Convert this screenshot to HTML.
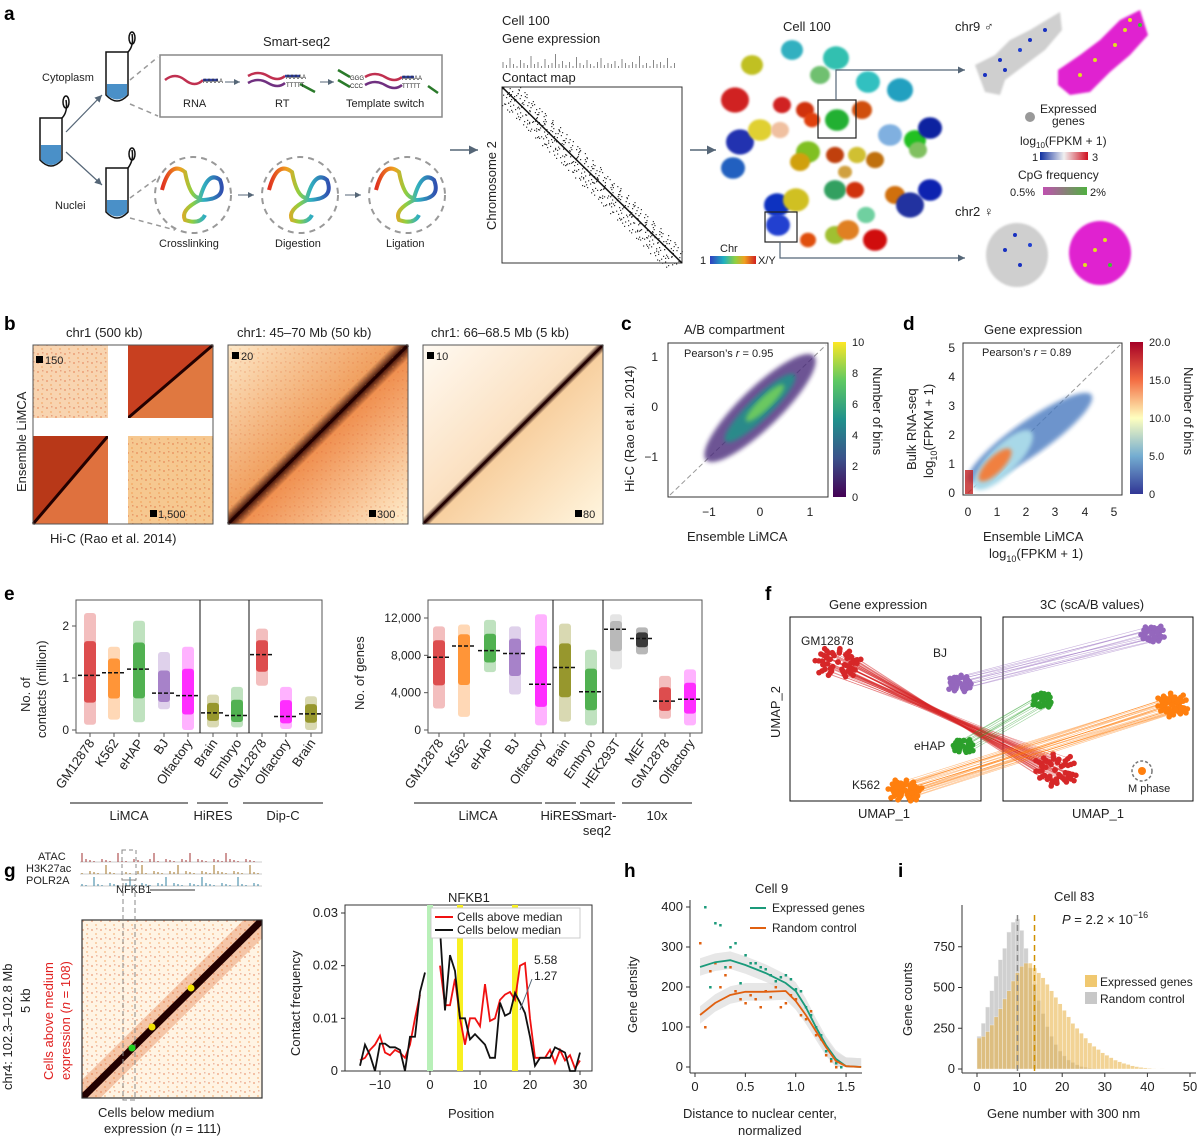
<!DOCTYPE html>
<html><head><meta charset="utf-8">
<style>
html,body{margin:0;padding:0;background:#fff;}
svg{display:block;font-family:"Liberation Sans",sans-serif;}
text{fill:#222;}
.pl{font-weight:bold;font-size:19px;fill:#000;}
.t13{font-size:13px;}
.t12{font-size:12px;}
.t11{font-size:11px;}
.t10{font-size:10px;}
</style></head>
<body>
<svg id="fig" width="1200" height="1139" viewBox="0 0 1200 1139" xmlns="http://www.w3.org/2000/svg">
<defs>
 <linearGradient id="hm2" x1="0" y1="0" x2="1" y2="1"><stop offset="0" stop-color="#fde8c8"/><stop offset="0.46" stop-color="#f0a060"/><stop offset="0.5" stop-color="#300400"/><stop offset="0.54" stop-color="#f09050"/><stop offset="1" stop-color="#fff0d0"/></linearGradient>
 <linearGradient id="hm3" x1="0" y1="0" x2="1" y2="1"><stop offset="0" stop-color="#fffaf2"/><stop offset="0.48" stop-color="#fbe0c0"/><stop offset="0.5" stop-color="#200000"/><stop offset="0.52" stop-color="#f8d0a0"/><stop offset="1" stop-color="#fff6e0"/></linearGradient>
 <pattern id="speck" width="9" height="9" patternUnits="userSpaceOnUse"><rect x="1" y="2" width="2" height="2" fill="#e06030" opacity="0.35"/><rect x="5" y="6" width="2" height="2" fill="#f09040" opacity="0.35"/><rect x="6" y="1" width="1.5" height="1.5" fill="#c03010" opacity="0.3"/></pattern>
 <linearGradient id="viridis" x1="0" y1="1" x2="0" y2="0"><stop offset="0" stop-color="#440154"/><stop offset="0.25" stop-color="#3b528b"/><stop offset="0.5" stop-color="#21918c"/><stop offset="0.75" stop-color="#5ec962"/><stop offset="1" stop-color="#fde725"/></linearGradient>
 <linearGradient id="rdylbu" x1="0" y1="1" x2="0" y2="0"><stop offset="0" stop-color="#313695"/><stop offset="0.25" stop-color="#74add1"/><stop offset="0.5" stop-color="#ffffbf"/><stop offset="0.75" stop-color="#f46d43"/><stop offset="1" stop-color="#a50026"/></linearGradient>
 <linearGradient id="chrbar" x1="0" x2="1"><stop offset="0" stop-color="#3040c0"/><stop offset="0.3" stop-color="#20b0c0"/><stop offset="0.55" stop-color="#90d040"/><stop offset="0.75" stop-color="#f0a020"/><stop offset="1" stop-color="#d02020"/></linearGradient>
 <linearGradient id="fpkm" x1="0" x2="1"><stop offset="0" stop-color="#1030a0"/><stop offset="0.5" stop-color="#f0f0f0"/><stop offset="1" stop-color="#d01020"/></linearGradient>
 <linearGradient id="cpg" x1="0" x2="1"><stop offset="0" stop-color="#c050b0"/><stop offset="1" stop-color="#50b040"/></linearGradient>
 <linearGradient id="chrline" x1="0" x2="1"><stop offset="0" stop-color="#e03020"/><stop offset="0.3" stop-color="#f0a020"/><stop offset="0.5" stop-color="#90d040"/><stop offset="0.7" stop-color="#30b0c0"/><stop offset="1" stop-color="#3050b0"/></linearGradient>
 <clipPath id="gclip"><rect x="82" y="920" width="180" height="178"/></clipPath>
 <filter id="blur1"><feGaussianBlur stdDeviation="1"/></filter>
 <filter id="blur2"><feGaussianBlur stdDeviation="2"/></filter>
 <marker id="arr" markerWidth="8" markerHeight="8" refX="6" refY="3" orient="auto"><path d="M0,0 L6,3 L0,6 z" fill="#556677"/></marker>
</defs>

<!-- ================= PANEL A ================= -->
<g>
<text class="pl" x="4" y="20">a</text>
<g stroke="#111" stroke-width="1.5" fill="none">
 <path d="M40,118 L62,118 L62,160 Q51,172 40,160 Z" fill="#fff"/><path d="M41,145 L61,145 L61,160 Q51,170 41,160Z" fill="#4a90c8" stroke="none"/>
 <path d="M62,118 Q68,112 66,100"/><ellipse cx="66" cy="102" rx="3" ry="6"/>
</g>
<g stroke="#111" stroke-width="1.5" fill="none">
 <path d="M106,52 L128,52 L128,95 Q117,107 106,95 Z" fill="#fff"/><path d="M107,84 L127,84 L127,95 Q117,104 107,95Z" fill="#4a90c8" stroke="none"/>
 <path d="M128,52 Q134,46 132,34"/><ellipse cx="132" cy="38" rx="3" ry="6"/>
</g>
<g stroke="#111" stroke-width="1.5" fill="none">
 <path d="M106,168 L128,168 L128,212 Q117,224 106,212 Z" fill="#fff"/><path d="M107,200 L127,200 L127,212 Q117,221 107,212Z" fill="#4a90c8" stroke="none"/>
 <path d="M128,168 Q134,160 132,150"/><ellipse cx="132" cy="154" rx="3" ry="6"/>
</g>
<line x1="66" y1="132" x2="102" y2="95" stroke="#556677" stroke-width="1.2" marker-end="url(#arr)"/>
<line x1="66" y1="152" x2="102" y2="185" stroke="#556677" stroke-width="1.2" marker-end="url(#arr)"/>
<text class="t11" x="42" y="81">Cytoplasm</text>
<text class="t11" x="55" y="209">Nuclei</text>
<text class="t13" x="263" y="46">Smart-seq2</text>
<rect x="160" y="55" width="282" height="62" fill="none" stroke="#888" stroke-width="1.5"/>
<line x1="130" y1="80" x2="158" y2="57" stroke="#999" stroke-dasharray="5,4" stroke-width="1.5"/>
<line x1="130" y1="104" x2="158" y2="116" stroke="#999" stroke-dasharray="5,4" stroke-width="1.5"/>
<g stroke-width="2.5" fill="none">
 <path d="M165,80 Q175,72 185,80 T203,80" stroke="#c03050"/><line x1="203" y1="80" x2="218" y2="80" stroke="#3040a0"/>
 <path d="M248,76 Q258,70 268,76 T285,76" stroke="#c03050"/><line x1="285" y1="76" x2="300" y2="76" stroke="#3040a0"/>
 <path d="M248,83 Q258,77 268,83 T285,83" stroke="#703080"/><line x1="300" y1="84" x2="315" y2="92" stroke="#2a7a2a"/>
 <path d="M365,77 Q375,71 385,77 T402,77" stroke="#c03050"/><line x1="402" y1="77" x2="414" y2="77" stroke="#3040a0"/>
 <path d="M365,85 Q375,79 385,85 T402,85" stroke="#703080"/><line x1="338" y1="70" x2="350" y2="77" stroke="#2a7a2a"/><line x1="338" y1="80" x2="350" y2="87" stroke="#2a7a2a"/><line x1="428" y1="86" x2="438" y2="93" stroke="#2a7a2a"/>
</g>
<text x="203" y="83" font-size="6">AAAAA</text><text x="286" y="79" font-size="6">AAAAA</text><text x="286" y="87" font-size="6">TTTTT</text>
<text x="402" y="80" font-size="6">AAAAA</text><text x="402" y="88" font-size="6">TTTTT</text><text x="350" y="80" font-size="6">GGG</text><text x="350" y="88" font-size="6">CCC</text>
<line x1="225" y1="82" x2="240" y2="82" stroke="#556677" marker-end="url(#arr)"/><line x1="320" y1="82" x2="334" y2="82" stroke="#556677" marker-end="url(#arr)"/>
<text class="t11" x="183" y="107">RNA</text>
<text class="t11" x="275" y="107">RT</text>
<text class="t11" x="346" y="107">Template switch</text>
<line x1="130" y1="198" x2="160" y2="176" stroke="#999" stroke-dasharray="5,4" stroke-width="1.5"/>
<line x1="130" y1="218" x2="175" y2="230" stroke="#999" stroke-dasharray="5,4" stroke-width="1.5"/>
<g>
 <circle cx="193" cy="195" r="38" fill="none" stroke="#999" stroke-width="2" stroke-dasharray="6,5"/>
 <circle cx="300" cy="195" r="38" fill="none" stroke="#999" stroke-width="2" stroke-dasharray="6,5"/>
 <circle cx="407" cy="195" r="38" fill="none" stroke="#999" stroke-width="2" stroke-dasharray="6,5"/>
 <path d="M162,190 Q170,160 185,172 Q190,198 200,198 Q208,170 220,180 Q228,200 200,200 Q180,210 185,220 Q200,225 205,215" fill="none" stroke="url(#chrline)" stroke-width="4"/>
 <path d="M269,190 Q277,160 292,172 Q297,198 307,198 Q315,170 327,180 Q335,200 307,200 Q287,210 292,220 Q307,225 312,215" fill="none" stroke="url(#chrline)" stroke-width="4"/>
 <path d="M376,190 Q384,160 399,172 Q404,198 414,198 Q422,170 434,180 Q442,200 414,200 Q394,210 399,220 Q414,225 419,215" fill="none" stroke="url(#chrline)" stroke-width="4"/>
</g>
<line x1="238" y1="195" x2="254" y2="195" stroke="#556677" marker-end="url(#arr)"/><line x1="345" y1="195" x2="361" y2="195" stroke="#556677" marker-end="url(#arr)"/>
<text class="t11" x="159" y="247">Crosslinking</text>
<text class="t11" x="275" y="247">Digestion</text>
<text class="t11" x="386" y="247">Ligation</text>
<line x1="450" y1="150" x2="478" y2="150" stroke="#556677" stroke-width="1.5" marker-end="url(#arr)"/>
<text class="t13" x="502" y="25">Cell 100</text>
<text class="t13" x="502" y="43">Gene expression</text>
<g id="spikes"></g>
<text class="t13" x="502" y="82">Contact map</text>
<rect x="502" y="87" width="180" height="176" fill="#fff" stroke="#333"/>
<g id="cmap"></g>
<text class="t13" transform="translate(496,230) rotate(-90)">Chromosome 2</text>
<line x1="690" y1="150" x2="716" y2="150" stroke="#556677" stroke-width="1.5" marker-end="url(#arr)"/>
<text class="t13" x="783" y="31">Cell 100</text>
<g id="blobs"></g>
<rect x="818" y="100" width="38" height="38" fill="none" stroke="#222" stroke-width="1.2"/>
<rect x="765" y="212" width="32" height="30" fill="none" stroke="#222" stroke-width="1.2"/>
<polyline points="836,100 836,70 965,70" fill="none" stroke="#556677" stroke-width="1.2" marker-end="url(#arr)"/>
<polyline points="780,242 780,258 965,258" fill="none" stroke="#556677" stroke-width="1.2" marker-end="url(#arr)"/>
<text class="t11" x="720" y="252">Chr</text>
<rect x="710" y="256" width="46" height="8" fill="url(#chrbar)"/>
<text class="t11" x="700" y="264">1</text><text class="t11" x="758" y="264">X/Y</text>
<text class="t13" x="955" y="31">chr9 ♂</text>
<path d="M975,65 L995,55 L1010,40 L1030,30 L1060,12 L1062,30 L1045,50 L1025,65 L1005,80 L1000,95 L985,92 Z" fill="#cfcfcf" filter="url(#blur1)"/>
<path d="M1058,70 L1080,55 L1100,40 L1120,20 L1140,10 L1148,35 L1130,55 L1110,72 L1090,92 L1070,95 L1058,85 Z" fill="#e020d0" filter="url(#blur1)"/>
<circle cx="1030" cy="117" r="5" fill="#999"/>
<text class="t12" x="1040" y="113">Expressed</text><text class="t12" x="1052" y="125">genes</text>
<text class="t12" x="1020" y="145">log<tspan font-size="8" dy="3">10</tspan><tspan dy="-3">(FPKM + 1)</tspan></text>
<text class="t11" x="1032" y="161">1</text><rect x="1040" y="152" width="48" height="8" fill="url(#fpkm)"/><text class="t11" x="1092" y="161">3</text>
<text class="t12" x="1018" y="179">CpG frequency</text>
<text class="t11" x="1010" y="196">0.5%</text><rect x="1043" y="187" width="44" height="8" fill="url(#cpg)"/><text class="t11" x="1090" y="196">2%</text>
<text class="t13" x="955" y="216">chr2 ♀</text>
<ellipse cx="1017" cy="255" rx="31" ry="32" fill="#cfcfcf" filter="url(#blur1)"/>
<ellipse cx="1100" cy="253" rx="31" ry="32" fill="#e020d0" filter="url(#blur1)"/>
<g id="dots9"></g>
</g>

<!-- ================= PANEL B ================= -->
<g>
<text class="pl" x="4" y="330">b</text>
<text class="t13" x="66" y="337">chr1 (500 kb)</text>
<text class="t13" x="237" y="337">chr1: 45–70 Mb (50 kb)</text>
<text class="t13" x="431" y="337">chr1: 66–68.5 Mb (5 kb)</text>
<g>
 <rect x="33" y="345" width="180" height="179" fill="#d86a38"/>
 <rect x="33" y="345" width="75" height="73" fill="#f8d4b0"/>
 <rect x="33" y="345" width="75" height="73" fill="url(#speck)"/>
 <rect x="128" y="345" width="85" height="73" fill="#c84020"/>
 <polygon points="128,418 213,345 213,418" fill="#e07840"/>
 <rect x="33" y="436" width="75" height="88" fill="#b83818"/>
 <polygon points="33,524 108,436 108,524" fill="#e88048" opacity="0.8"/>
 <rect x="128" y="436" width="85" height="88" fill="#f6c890"/>
 <rect x="128" y="436" width="85" height="88" fill="url(#speck)"/>
 <line x1="33" y1="524" x2="108" y2="436" stroke="#200" stroke-width="3"/>
 <line x1="128" y1="418" x2="213" y2="345" stroke="#200" stroke-width="3"/>
 <rect x="108" y="345" width="20" height="179" fill="#fff"/>
 <rect x="33" y="418" width="180" height="18" fill="#fff"/>
</g>
<g><rect x="228" y="345" width="180" height="179" fill="url(#hm2)"/><rect x="228" y="345" width="180" height="179" fill="url(#speck)" opacity="0.5"/><line x1="228" y1="524" x2="408" y2="345" stroke="#200" stroke-width="3"/></g>
<g><rect x="423" y="345" width="180" height="179" fill="url(#hm3)"/><line x1="423" y1="524" x2="603" y2="345" stroke="#200" stroke-width="2.5"/></g>
<rect x="33" y="345" width="180" height="179" fill="none" stroke="#555"/><rect x="228" y="345" width="180" height="179" fill="none" stroke="#555"/><rect x="423" y="345" width="180" height="179" fill="none" stroke="#555"/>
<rect x="36" y="356" width="7" height="7" fill="#000"/><text class="t11" x="45" y="364">150</text>
<rect x="150" y="510" width="7" height="7" fill="#000"/><text class="t11" x="158" y="518">1,500</text>
<rect x="232" y="352" width="7" height="7" fill="#000"/><text class="t11" x="241" y="360">20</text>
<rect x="369" y="510" width="7" height="7" fill="#000"/><text class="t11" x="377" y="518">300</text>
<rect x="427" y="352" width="7" height="7" fill="#000"/><text class="t11" x="436" y="360">10</text>
<rect x="575" y="510" width="7" height="7" fill="#000"/><text class="t11" x="583" y="518">80</text>
<text class="t13" transform="translate(26,492) rotate(-90)">Ensemble LiMCA</text>
<text class="t13" x="50" y="543">Hi-C (Rao et al. 2014)</text>
</g>

<!-- ================= PANEL C ================= -->
<g>
<text class="pl" x="621" y="330">c</text>
<text class="t13" x="684" y="334">A/B compartment</text>
<rect x="668" y="343" width="160" height="154" fill="#fff" stroke="#333"/>
<line x1="670" y1="495" x2="826" y2="345" stroke="#999" stroke-dasharray="5,3"/>
<ellipse cx="760" cy="408" rx="75" ry="20" fill="#4a2a7a" transform="rotate(-44 760 408)" filter="url(#blur2)" opacity="0.8"/>
<ellipse cx="760" cy="408" rx="48" ry="11" fill="#2a8a8a" transform="rotate(-44 760 408)" filter="url(#blur2)"/>
<ellipse cx="765" cy="403" rx="26" ry="6" fill="#6ac860" transform="rotate(-44 765 403)" filter="url(#blur2)"/>
<text class="t11" x="684" y="357">Pearson’s <tspan font-style="italic">r</tspan> = 0.95</text>
<g class="t12" text-anchor="end"><text x="658" y="361">1</text><text x="658" y="411">0</text><text x="658" y="461">−1</text></g>
<g class="t12" text-anchor="middle"><text x="709" y="516">−1</text><text x="760" y="516">0</text><text x="810" y="516">1</text></g>
<text class="t13" x="687" y="541">Ensemble LiMCA</text>
<text class="t13" transform="translate(634,492) rotate(-90)">Hi-C (Rao et al. 2014)</text>
<rect x="833" y="342" width="13" height="155" fill="url(#viridis)"/>
<g class="t11"><text x="852" y="346">10</text><text x="852" y="377">8</text><text x="852" y="408">6</text><text x="852" y="439">4</text><text x="852" y="470">2</text><text x="852" y="501">0</text></g>
<text class="t13" transform="translate(873,367) rotate(90)">Number of bins</text>
</g>

<!-- ================= PANEL D ================= -->
<g>
<text class="pl" x="903" y="330">d</text>
<text class="t13" x="984" y="334">Gene expression</text>
<rect x="963" y="343" width="159" height="152" fill="#fff" stroke="#333"/>
<line x1="968" y1="493" x2="1120" y2="345" stroke="#999" stroke-dasharray="5,3"/>
<ellipse cx="1030" cy="438" rx="75" ry="17" fill="#4a7ac0" transform="rotate(-35 1030 438)" filter="url(#blur2)" opacity="0.8"/>
<ellipse cx="1003" cy="460" rx="40" ry="14" fill="#a8d8e8" transform="rotate(-45 1003 460)" filter="url(#blur2)"/>
<ellipse cx="995" cy="465" rx="22" ry="8" fill="#f08040" transform="rotate(-45 995 465)" filter="url(#blur2)"/>
<rect x="965" y="470" width="8" height="24" fill="#c02020" opacity="0.8"/>
<text class="t11" x="982" y="356">Pearson’s <tspan font-style="italic">r</tspan> = 0.89</text>
<g class="t12" text-anchor="end"><text x="955" y="352">5</text><text x="955" y="381">4</text><text x="955" y="410">3</text><text x="955" y="439">2</text><text x="955" y="468">1</text><text x="955" y="497">0</text></g>
<g class="t12" text-anchor="middle"><text x="968" y="516">0</text><text x="997" y="516">1</text><text x="1026" y="516">2</text><text x="1055" y="516">3</text><text x="1085" y="516">4</text><text x="1114" y="516">5</text></g>
<text class="t13" x="983" y="541">Ensemble LiMCA</text>
<text class="t13" x="989" y="558">log<tspan font-size="9" dy="4">10</tspan><tspan dy="-4">(FPKM + 1)</tspan></text>
<text class="t13" transform="translate(916,470) rotate(-90)">Bulk RNA-seq</text>
<text class="t13" transform="translate(933,478) rotate(-90)">log<tspan font-size="9" dy="4">10</tspan><tspan dy="-4">(FPKM + 1)</tspan></text>
<rect x="1130" y="342" width="13" height="152" fill="url(#rdylbu)"/>
<g class="t11"><text x="1149" y="346">20.0</text><text x="1149" y="384">15.0</text><text x="1149" y="422">10.0</text><text x="1149" y="460">5.0</text><text x="1149" y="498">0</text></g>
<text class="t13" transform="translate(1184,367) rotate(90)">Number of bins</text>
</g>

<!-- ================= PANEL E ================= -->
<g>
<text class="pl" x="4" y="600">e</text>
<rect x="76" y="600" width="246" height="133" fill="#fff" stroke="#555"/>
<rect x="428" y="600" width="274" height="133" fill="#fff" stroke="#555"/>
<g id="eplot"></g>
<text class="t13" transform="translate(30,712) rotate(-90)">No. of</text>
<text class="t13" transform="translate(46,738) rotate(-90)">contacts (million)</text>
<text class="t13" transform="translate(364,710) rotate(-90)">No. of genes</text>
</g>

<!-- ================= PANEL F ================= -->
<g>
<text class="pl" x="765" y="600">f</text>
<text class="t13" x="829" y="609">Gene expression</text>
<text class="t13" x="1040" y="609">3C (scA/B values)</text>
<rect x="790" y="617" width="191" height="184" fill="none" stroke="#111"/>
<rect x="1003" y="617" width="190" height="184" fill="none" stroke="#111"/>
<g id="fplot"></g>
<text class="t12" x="801" y="645">GM12878</text>
<text class="t12" x="933" y="657">BJ</text>
<text class="t12" x="914" y="750">eHAP</text>
<text class="t12" x="852" y="789">K562</text>
<text class="t11" x="1128" y="792">M phase</text>
<circle cx="1142" cy="771" r="10" fill="none" stroke="#777" stroke-width="1.5" stroke-dasharray="3,2"/>
<text class="t13" x="858" y="818">UMAP_1</text>
<text class="t13" x="1072" y="818">UMAP_1</text>
<text class="t13" transform="translate(780,738) rotate(-90)">UMAP_2</text>
</g>

<!-- ================= PANEL G ================= -->
<g>
<text class="pl" x="4" y="877">g</text>
<text class="t11" x="38" y="860">ATAC</text><text class="t11" x="26" y="872">H3K27ac</text><text class="t11" x="26" y="884">POLR2A</text>
<g id="tracks"></g>
<text class="t11" x="116" y="893">NFKB1</text><line x1="150" y1="890" x2="195" y2="890" stroke="#333"/>
<g>
<rect x="82" y="920" width="180" height="178" fill="#fff4e4"/>
<g clip-path="url(#gclip)">
<rect x="82" y="920" width="180" height="178" fill="url(#speck)"/>
<line x1="82" y1="1098" x2="262" y2="920" stroke="#e06020" stroke-width="26" opacity="0.3"/>
<line x1="82" y1="1098" x2="262" y2="920" stroke="#200" stroke-width="7"/>
</g>
<rect x="82" y="920" width="180" height="178" fill="none" stroke="#333" stroke-width="1.2"/>
</g>
<rect x="123" y="880" width="12" height="220" fill="none" stroke="#888" stroke-dasharray="5,3"/>
<circle cx="152" cy="1027" r="3.5" fill="#f0e000"/><circle cx="191" cy="988" r="3.5" fill="#f0e000"/><circle cx="132" cy="1048" r="3.5" fill="#20d020"/>
<text class="t13" transform="translate(12,1090) rotate(-90)">chr4: 102.3–102.8 Mb</text>
<text class="t13" transform="translate(30,1013) rotate(-90)">5 kb</text>
<text class="t13" transform="translate(53,1080) rotate(-90)" style="fill:#e02020">Cells above medium</text>
<text class="t13" transform="translate(70,1080) rotate(-90)" style="fill:#e02020">expression (<tspan font-style="italic" style="fill:#e02020">n</tspan> = 108)</text>
<text class="t13" x="98" y="1117">Cells below medium</text>
<text class="t13" x="104" y="1133">expression (<tspan font-style="italic">n</tspan> = 111)</text>
<text class="t13" x="448" y="902">NFKB1</text>
<g id="gplot"></g>
<text class="t13" x="448" y="1118">Position</text>
<text class="t13" transform="translate(300,1056) rotate(-90)">Contact frequency</text>
</g>

<!-- ================= PANEL H ================= -->
<g>
<text class="pl" x="624" y="877">h</text>
<text class="t13" x="755" y="893">Cell 9</text>
<g id="hplot"></g>
<text class="t13" x="683" y="1118">Distance to nuclear center,</text>
<text class="t13" x="738" y="1135">normalized</text>
<text class="t13" transform="translate(637,1033) rotate(-90)">Gene density</text>
</g>

<!-- ================= PANEL I ================= -->
<g>
<text class="pl" x="898" y="877">i</text>
<text class="t13" x="1054" y="901">Cell 83</text>
<g id="iplot"></g>
<text class="t13" x="1062" y="924"><tspan font-style="italic">P</tspan> = 2.2 × 10<tspan font-size="9" dy="-6">−16</tspan></text>
<text class="t13" x="987" y="1118">Gene number with 300 nm</text>
<text class="t13" transform="translate(912,1036) rotate(-90)">Gene counts</text>
</g>
</svg>

<script>
// ---------- panel e data ----------
const eLeftCats = ["GM12878","K562","eHAP","BJ","Olfactory","Brain","Embryo","GM12878","Olfactory","Brain"];
const eLeftColors = ["#d62728","#ff7f0e","#2ca02c","#9467bd","#ff00ff","#808000","#2ca02c","#d62728","#ff00ff","#808000"];
const eLeftMedian = [1.05,1.1,1.17,0.71,0.66,0.33,0.28,1.45,0.26,0.31];
const eLeftMin = [0.1,0.2,0.15,0.4,0.0,0.05,0.05,0.85,0.02,0.0];
const eLeftMax = [2.25,1.6,2.1,1.5,1.6,0.68,0.83,1.95,0.83,0.65];
const eRightCats = ["GM12878","K562","eHAP","BJ","Olfactory","Brain","Embryo","HEK293T","MEF","GM12878","Olfactory"];
const eRightColors = ["#d62728","#ff7f0e","#2ca02c","#9467bd","#ff00ff","#808000","#2ca02c","#aaaaaa","#111111","#d62728","#ff00ff"];
const eRightMedian = [7800,9000,8500,8200,4900,6700,4100,10800,9800,3100,3300];
const eRightMin = [2300,1400,6200,3800,500,900,500,6500,8100,1200,500];
const eRightMax = [11100,11300,11800,11100,12400,11400,8600,12400,11000,5800,6500];
const eLeftTicks = [0,1,2];
const eRightTicks = [0,4000,8000,12000];

// ---------- panel g data ----------
const gPos = [-14,-13,-12,-11,-10,-9,-8,-7,-6,-5,-4,-3,-2,-1,0,1,2,3,4,5,6,7,8,9,10,11,12,13,14,15,16,17,18,19,20,21,22,23,24,25,26,27,28,29,30];
const gAbove = [.002,.0025,.004,.005,.0067,.0035,.003,.004,.0035,.0025,.005,.01,.0145,null,null,null,.02,.0125,.0125,.0175,.01,.005,.01,.01,.0085,.0165,.0095,.01,.0135,.0145,.015,.0135,.02,.0205,.01,.0025,.0025,.0025,.004,.0015,.004,.002,.003,.0005,.002];
const gBelow = [.001,.005,.003,0,.0052,.0052,.0045,.0045,.004,0,.0065,.0065,.015,.0187,null,null,.027,.0115,.022,.019,.01,.01,.006,.007,.006,.005,.0025,.0025,.013,.0105,.011,.0148,.013,.011,.0065,.001,.0025,.0025,.0025,.0045,.004,.0035,0,0,.0035];
const gXTicks = [-10,0,10,20,30];
const gYTicks = [0,0.01,0.02,0.03];

// ---------- panel h data ----------
const hX = [0.05,0.2,0.35,0.5,0.7,0.9,1.0,1.1,1.2,1.3,1.4,1.5,1.65];
const hExpressed = [250,262,267,255,235,210,190,150,100,55,20,2,0];
const hRandom = [130,160,180,188,188,190,165,130,90,50,15,2,0];
const hExpPtsX = [0.1,0.15,0.2,0.25,0.3,0.35,0.4,0.45,0.5,0.55,0.6,0.65,0.7,0.75,0.8,0.85,0.9,0.95,1.0,1.05,1.1,1.15,1.2,1.25,1.3,1.35,1.4,1.45];
const hExpPtsY = [400,200,360,355,250,300,310,210,280,260,260,250,245,230,215,225,230,220,195,190,150,130,100,80,40,20,10,0];
const hRndPtsX = [0.05,0.1,0.15,0.2,0.25,0.3,0.35,0.4,0.45,0.5,0.55,0.6,0.65,0.7,0.75,0.8,0.85,0.9,0.95,1.0,1.05,1.1,1.15,1.2,1.25,1.3,1.35,1.4];
const hRndPtsY = [310,100,240,260,200,230,250,190,170,160,180,170,150,190,175,200,150,160,180,170,130,120,140,80,70,30,15,0];
const hXTicks = [0,0.5,1.0,1.5];
const hYTicks = [0,100,200,300,400];

// ---------- panel i data ----------
const iRandom = [200,280,380,480,570,670,740,840,900,920,850,740,620,520,420,340,260,200,150,110,80,55,40,25,15,10,5,3,2,1];
const iExpressed = [190,200,230,270,320,370,430,480,540,590,630,650,650,620,590,560,520,480,440,400,360,320,280,250,220,190,160,140,120,100,85,70,55,45,35,28,20,15,10,7,5,3,2,1];
const iMedians = [9.5,13.5];
const iXTicks = [0,10,20,30,40,50];
const iYTicks = [0,250,500,750];

// ---------- panel f cluster data ----------
const fClusters = ["GM12878","BJ","eHAP","K562"];
const fColors = ["#d62728","#9467bd","#2ca02c","#ff7f0e"];
const fLeftX = [838,960,963,905];
const fLeftY = [662,683,746,790];
const fRightX = [1055,1152,1042,1172];
const fRightY = [770,634,700,705];
const fCounts = [60,12,10,25];

const NS="http://www.w3.org/2000/svg";
function mk(parent,tag,attrs){const e=document.createElementNS(NS,tag);for(const k in attrs)e.setAttribute(k,attrs[k]);parent.appendChild(e);return e;}
function txt(parent,x,y,s,attrs){const e=mk(parent,"text",Object.assign({x:x,y:y,"font-size":12},attrs||{}));e.textContent=s;return e;}

// ----- panel a decorations -----
(function(){
 const sp=document.getElementById("spikes");
 const h=[6,3,10,4,2,8,5,3,12,4,6,2,9,3,5,14,4,7,3,6,2,11,5,3,8,4,2,6,10,3,5,4,7,2,9,5,3,6,4,12,3,5,2,8,4,6,3,10,2,5];
 for(let i=0;i<h.length;i++){mk(sp,"line",{x1:503+i*3.5,x2:503+i*3.5,y1:68,y2:68-h[i],stroke:"#888","stroke-width":1});}
 const cm=document.getElementById("cmap");
 for(let i=0;i<260;i++){const t=(i*37%176);const d=((i*53)%60)-30;const x=502+t+(d>0?d:0)*0.6, y=87+t-(d<0?d:0)*0.6;
  if(x<682&&y<263){mk(cm,"rect",{x:x,y:y,width:1.2,height:1.2,fill:"#333"});mk(cm,"rect",{x:502+(y-87),y:87+(x-502),width:1.2,height:1.2,fill:"#333"});}}
 mk(cm,"line",{x1:502,y1:87,x2:682,y2:263,stroke:"#111","stroke-width":1.5});
 const bl=document.getElementById("blobs");
 const B=[[735,100,"#d02020",14],[782,105,"#d02020",9],[752,65,"#c0c020",11],[792,50,"#30b0c0",11],[836,58,"#30c0b0",13],[820,75,"#70c070",10],[740,142,"#2030b0",14],[760,130,"#e0d030",12],[780,130,"#f0c0a0",9],[733,168,"#2060c0",12],[805,110,"#d03010",9],[812,120,"#e04010",8],[837,120,"#20b030",12],[862,110,"#d05010",10],[868,82,"#30c0c0",12],[900,90,"#20a0c0",13],[808,152,"#80c020",12],[800,162,"#d0a010",10],[835,155,"#c04010",9],[857,155,"#d0c030",9],[875,160,"#c07010",9],[890,135,"#80b0e0",12],[915,140,"#20c020",11],[930,128,"#1020a0",12],[918,150,"#80c060",9],[845,172,"#d0a040",7],[777,205,"#1030c0",13],[796,200,"#d0c020",13],[778,225,"#2040d0",12],[835,190,"#30a060",11],[855,190,"#d03010",9],[895,195,"#d07010",10],[910,205,"#2030a0",14],[930,190,"#1020b0",12],[866,215,"#70d0a0",9],[835,235,"#a0c030",10],[848,230,"#e08020",11],[875,240,"#d01010",12],[808,240,"#e05010",8]];
 B.forEach(b=>{mk(bl,"ellipse",{cx:b[0],cy:b[1],rx:b[3],ry:b[3]*0.9,fill:b[2],filter:"url(#blur1)"});});
 const dd=document.getElementById("dots9");
 const P=[[1045,30,"#1830c0"],[1030,40,"#1830c0"],[1020,50,"#2040d0"],[1000,60,"#1830c0"],[985,75,"#1830c0"],[1005,70,"#1830c0"],[1125,30,"#e0e020"],[1115,45,"#e0e020"],[1140,25,"#40c030"],[1095,60,"#e0e020"],[1080,75,"#e0e020"],[1130,20,"#e0e020"],[1005,250,"#1830c0"],[1020,265,"#1830c0"],[1030,245,"#2040d0"],[1015,235,"#1830c0"],[1095,250,"#e0e020"],[1110,265,"#40c030"],[1085,265,"#e0e020"],[1105,240,"#e0e020"]];
 P.forEach(p=>mk(dd,"circle",{cx:p[0],cy:p[1],r:2,fill:p[2]}));
 const tr=document.getElementById("tracks");
 const cols=["#a03030","#a07020","#3080a0"];
 for(let k=0;k<3;k++){mk(tr,"line",{x1:80,x2:262,y1:862+k*12,y2:862+k*12,stroke:"#ccc"});
  for(let i=0;i<45;i++){const h=((i*7+k*3)%9===0)?9:((i*11+k)%4);mk(tr,"line",{x1:82+i*4,x2:82+i*4,y1:862+k*12,y2:862+k*12-h,stroke:cols[k]});}}
 mk(tr,"rect",{x:122,y:850,width:14,height:30,fill:"none",stroke:"#888","stroke-dasharray":"4,3"});
})();

// ----- panel e -----
(function(){
 const g=document.getElementById("eplot");
 function strip(x0,xs,cats,cols,med,mn,mx,ticks,y0,yTop,vmax,fmt){
  const ys=v=>y0-(v/vmax)*(y0-yTop);
  ticks.forEach(t=>{mk(g,"line",{x1:x0-4,x2:x0,y1:ys(t),y2:ys(t),stroke:"#555"});txt(g,x0-7,ys(t)+4,fmt(t),{"text-anchor":"end","font-size":12});});
  cats.forEach((c,i)=>{
   const x=xs[i];
   const r=mk(g,"rect",{x:x-6,y:ys(mx[i]),width:12,height:ys(mn[i])-ys(mx[i]),fill:cols[i],opacity:0.3,rx:3});
   
   
   const q1=med[i]-(med[i]-mn[i])*0.55,q3=med[i]+(mx[i]-med[i])*0.55;
   const c2=mk(g,"rect",{x:x-6,y:ys(q3),width:12,height:ys(q1)-ys(q3),fill:cols[i],opacity:0.75,rx:3});
   
   
   const m=mk(g,"line",{x1:x-12,x2:x+12,y1:ys(med[i]),y2:ys(med[i]),stroke:"#111","stroke-width":1.5,"stroke-dasharray":"4,2"});
   
   
   mk(g,"line",{x1:x,x2:x,y1:733,y2:737,stroke:"#555"});
   const t=txt(g,0,0,c,{"font-size":13,"text-anchor":"end",transform:`translate(${x+5},${743}) rotate(-55)`});
   
   
  });
 }
 const xl=[90,114,139,164,188,213,237,262,286,311];
 strip(76,xl,eLeftCats,eLeftColors,eLeftMedian,eLeftMin,eLeftMax,eLeftTicks,730,626,2,t=>String(t));
 mk(g,"line",{x1:200,x2:200,y1:600,y2:733,stroke:"#111"});mk(g,"line",{x1:249,x2:249,y1:600,y2:733,stroke:"#111"});
 const xr=[439,464,490,515,541,565,591,616,642,665,690];
 strip(428,xr,eRightCats,eRightColors,eRightMedian,eRightMin,eRightMax,eRightTicks,730,618,12000,t=>t.toLocaleString("en-US"));
 mk(g,"line",{x1:553,x2:553,y1:600,y2:733,stroke:"#111"});mk(g,"line",{x1:603,x2:603,y1:600,y2:733,stroke:"#111"});
 const grp=[[70,188,"LiMCA",129],[197,228,"HiRES",213],[243,323,"Dip-C",283],[414,542,"LiMCA",478],[545,576,"HiRES",560],[580,615,"Smart-",597],[622,692,"10x",657]];
 grp.forEach(a=>{mk(g,"line",{x1:a[0],x2:a[1],y1:803,y2:803,stroke:"#111"});txt(g,a[3],820,a[2],{"text-anchor":"middle","font-size":13});});
 txt(g,597,835,"seq2",{"text-anchor":"middle","font-size":13});
})();

// ----- panel f -----
(function(){
 const g=document.getElementById("fplot");
 const off=[[0,0],[5,3],[-4,5],[7,-4],[-6,-3],[3,8],[-8,2],[9,6],[-3,-7],[6,-8],[-9,-6],[10,1],[1,-10],[-10,8],[4,11],[-5,10],[12,-2],[-12,-1],[8,10],[-7,-10]];
 fClusters.forEach((c,i)=>{
  for(let k=0;k<fCounts[i];k++){
   const o=off[k%off.length],s=1+Math.floor(k/off.length)*0.35;
   const ln=mk(g,"line",{x1:fLeftX[i]+o[0]*s,y1:fLeftY[i]+o[1]*s*0.7,x2:fRightX[i]+o[1]*s,y2:fRightY[i]+o[0]*s*0.7,stroke:fColors[i],"stroke-width":0.6,opacity:0.5});
   
   
  }
  for(let k=0;k<Math.min(60,fCounts[i]*3);k++){
   const o=off[k%off.length],s=(i==0?1.3:0.8)+Math.floor(k/off.length)*0.3;
   mk(g,"circle",{cx:fLeftX[i]+o[0]*s,cy:fLeftY[i]+o[1]*s*0.7,r:2.8,fill:fColors[i]});
   mk(g,"circle",{cx:fRightX[i]+o[1]*s,cy:fRightY[i]+o[0]*s*0.7,r:2.8,fill:fColors[i]});
  }
 });
 mk(g,"circle",{cx:1142,cy:771,r:4,fill:"#ff7f0e"});
})();

// ----- panel g line chart -----
(function(){
 const g=document.getElementById("gplot");
 const X0=345,X1=592,Y0=1071,Y1=905;
 const xs=v=>430+v*5, ys=v=>1071-v*5267;
 mk(g,"rect",{x:X0,y:Y1,width:X1-X0,height:Y0-Y1,fill:"#fff",stroke:"#333"});
 mk(g,"rect",{x:xs(-0.6),y:Y1,width:6,height:Y0-Y1,fill:"#b8f0b8"});
 mk(g,"rect",{x:xs(5.4),y:Y1,width:6,height:Y0-Y1,fill:"#f8f020"});
 mk(g,"rect",{x:xs(16.4),y:Y1,width:6,height:Y0-Y1,fill:"#f8f020"});
 gXTicks.forEach(t=>{mk(g,"line",{x1:xs(t),x2:xs(t),y1:Y0,y2:Y0+4,stroke:"#333"});txt(g,xs(t),Y0+18,t<0?"−"+(-t):String(t),{"text-anchor":"middle","font-size":13});});
 gYTicks.forEach(t=>{mk(g,"line",{x1:X0-4,x2:X0,y1:ys(t),y2:ys(t),stroke:"#333"});txt(g,X0-7,ys(t)+4,t===0?"0":t.toFixed(2),{"text-anchor":"end","font-size":13});});
 function path(vals,col,name){let d="",pen=false;vals.forEach((v,i)=>{if(v===null){pen=false;return;}d+=(pen?"L":"M")+xs(gPos[i])+","+ys(v);pen=true;});
  const p=mk(g,"path",{d:d,fill:"none",stroke:col,"stroke-width":1.8});
  
  }
 path(gAbove,"#f01010","line-cells-above-median");
 path(gBelow,"#111","line-cells-below-median");
 mk(g,"rect",{x:431,y:908,width:149,height:30,fill:"#fff",stroke:"#ccc"});
 mk(g,"line",{x1:435,x2:453,y1:917,y2:917,stroke:"#f01010","stroke-width":2});txt(g,457,921,"Cells above median",{"font-size":12});
 mk(g,"line",{x1:435,x2:453,y1:930,y2:930,stroke:"#111","stroke-width":2});txt(g,457,934,"Cells below median",{"font-size":12});
 txt(g,534,964,"5.58",{"font-size":12,fill:"#f01010"});
 txt(g,534,980,"1.27",{"font-size":12});
 mk(g,"line",{x1:532,y1:979,x2:520,y2:1010,stroke:"#556677"});
})();

// ----- panel h -----
(function(){
 const g=document.getElementById("hplot");
 const X0=690,X1=862,Y0=1073,Y1=900;
 const xs=v=>695+v*100.7, ys=v=>1067-v*0.4;
 mk(g,"line",{x1:X0,x2:X0,y1:Y1,y2:Y0,stroke:"#333"});mk(g,"line",{x1:X0,x2:X1,y1:Y0,y2:Y0,stroke:"#333"});
 hXTicks.forEach(t=>{mk(g,"line",{x1:xs(t),x2:xs(t),y1:Y0,y2:Y0+4,stroke:"#333"});txt(g,xs(t),Y0+18,t===0?"0":t.toFixed(1),{"text-anchor":"middle","font-size":13});});
 hYTicks.forEach(t=>{mk(g,"line",{x1:X0-4,x2:X0,y1:ys(t),y2:ys(t),stroke:"#333"});txt(g,X0-7,ys(t)+4,String(t),{"text-anchor":"end","font-size":13});});
 function band(vals){let d="";vals.forEach((v,i)=>{d+=(i?"L":"M")+xs(hX[i])+","+ys(v+22);});for(let i=vals.length-1;i>=0;i--)d+="L"+xs(hX[i])+","+ys(Math.max(0,vals[i]-22));mk(g,"path",{d:d+"Z",fill:"#ddd",opacity:0.7});}
 band(hExpressed);band(hRandom);
 hExpPtsX.forEach((x,i)=>mk(g,"rect",{x:xs(x)-1,y:ys(hExpPtsY[i])-1,width:2.5,height:2.5,fill:"#1a9a7a"}));
 hRndPtsX.forEach((x,i)=>mk(g,"rect",{x:xs(x)-1,y:ys(hRndPtsY[i])-1,width:2.5,height:2.5,fill:"#e06010"}));
 function line(vals,col,name){const p=mk(g,"path",{d:vals.map((v,i)=>(i?"L":"M")+xs(hX[i])+","+ys(v)).join(""),fill:"none",stroke:col,"stroke-width":1.8});
  
  }
 line(hExpressed,"#1a9a7a","line-expressed-genes");
 line(hRandom,"#e06010","line-random-control");
 mk(g,"line",{x1:750,x2:766,y1:908,y2:908,stroke:"#1a9a7a","stroke-width":2});txt(g,772,912,"Expressed genes",{"font-size":12});
 mk(g,"line",{x1:750,x2:766,y1:928,y2:928,stroke:"#e06010","stroke-width":2});txt(g,772,932,"Random control",{"font-size":12});
})();

// ----- panel i -----
(function(){
 const g=document.getElementById("iplot");
 const X0=962,X1=1196,Y0=1073,Y1=905;
 const xs=v=>977+v*4.26, ys=v=>1069-v*0.163;
 mk(g,"line",{x1:X0,x2:X0,y1:Y1,y2:Y0,stroke:"#333"});mk(g,"line",{x1:X0,x2:X1,y1:Y0,y2:Y0,stroke:"#333"});
 iXTicks.forEach(t=>{mk(g,"line",{x1:xs(t),x2:xs(t),y1:Y0,y2:Y0+4,stroke:"#333"});txt(g,xs(t),Y0+18,String(t),{"text-anchor":"middle","font-size":13});});
 iYTicks.forEach(t=>{mk(g,"line",{x1:X0-4,x2:X0,y1:ys(t),y2:ys(t),stroke:"#333"});txt(g,X0-7,ys(t)+4,String(t),{"text-anchor":"end","font-size":13});});
 iRandom.forEach((v,i)=>{const r=mk(g,"rect",{x:xs(i),y:ys(v),width:4.26,height:ys(0)-ys(v),fill:"#c8c8c8",opacity:0.85,stroke:"#eee","stroke-width":0.4});
  
  });
 iExpressed.forEach((v,i)=>{const r=mk(g,"rect",{x:xs(i),y:ys(v),width:4.26,height:ys(0)-ys(v),fill:"#e8b040",opacity:0.55,stroke:"#fff","stroke-width":0.4});
  
  });
 mk(g,"line",{x1:xs(iMedians[0]),x2:xs(iMedians[0]),y1:Y1+10,y2:Y0,stroke:"#888","stroke-width":1.5,"stroke-dasharray":"6,4"});
 mk(g,"line",{x1:xs(iMedians[1]),x2:xs(iMedians[1]),y1:Y1+10,y2:Y0,stroke:"#d09000","stroke-width":1.5,"stroke-dasharray":"6,4"});
 mk(g,"rect",{x:1085,y:975,width:12,height:12,fill:"#f0c870"});txt(g,1100,986,"Expressed genes",{"font-size":12});
 mk(g,"rect",{x:1085,y:992,width:12,height:12,fill:"#c8c8c8"});txt(g,1100,1003,"Random control",{"font-size":12});
})();
</script>
</body></html>
